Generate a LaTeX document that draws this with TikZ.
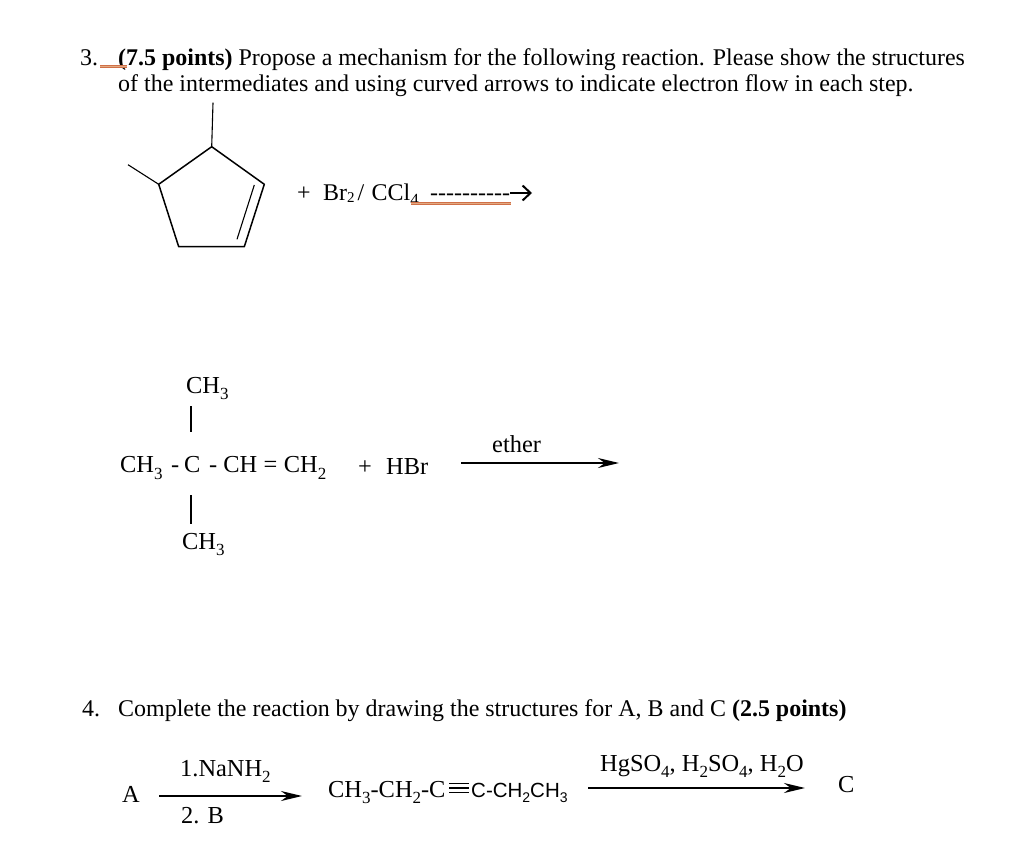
\documentclass[tikz,border=0pt]{standalone}
\usepackage{fontspec}
\setmainfont{Liberation Serif}
\newfontfamily\plainfont{Liberation Serif}
\setsansfont{Liberation Sans}
\usetikzlibrary{arrows.meta,positioning}
\newcommand{\sbs}[1]{\raisebox{-0.28em}{\fontsize{17}{17}\selectfont #1}}
\definecolor{wavyred}{RGB}{208,112,72}
\definecolor{wavytan}{RGB}{226,170,130}
\begin{document}
\begin{tikzpicture}[
    x=1pt, y=-1pt,
    txt/.style={anchor=base west, inner sep=0pt, font=\fontsize{23.95}{28}\selectfont},
    chem/.style={anchor=base west, inner sep=0pt, font=\fontsize{24.4}{28}\selectfont},
    bond/.style={line width=1.5pt, black},
    thinbond/.style={line width=1.1pt, black},
    rxn/.style={line width=2pt, -{Stealth[length=21pt, width=10pt]}},
    squiggle/.style={line width=0.9pt, wavyred, double=wavytan, double distance=0.7pt}
]
    \useasboundingbox (0,0) rectangle (1024,843);

    % Question 3
    \node[txt] (num3) at (80,65) {3.};
    \node[txt] (head3) at (118,65) {\textbf{(7.5 points)} Propose a mechanism for the following reaction. Please show the structures};
    \node[txt] (line3) at (118,91) {of the intermediates and using curved arrows to indicate electron flow in each step.};
    \coordinate (ua) at (100,66.5);
    \coordinate (ub) at (127,66.5);
    \draw[squiggle] (ua) -- (ub);

    % Ring
    \coordinate (r1) at (211.7,146.7);
    \coordinate (r2) at (264.3,184.3);
    \coordinate (r3) at (244.3,246.7);
    \coordinate (r4) at (178.7,246.7);
    \coordinate (r5) at (158.7,184.3);
    \coordinate (me1) at (213,102.7);
    \coordinate (me2) at (128,164.7);
    \coordinate (in1) at (254.3,185);
    \coordinate (in2) at (237,239.3);
    \draw[bond, line join=round] (r1) -- (r2) -- (r3) -- (r4) -- (r5) -- cycle;
    \draw[thinbond] (r1) -- (me1);
    \draw[thinbond] (r5) -- (me2);
    \draw[thinbond] (in1) -- (in2);

    % Bromine addition
    \node[txt] (plus1) at (297,200) {+};
    \node[txt] (br2) at (323,200) {Br\raisebox{-0.1em}{\fontsize{15}{15}\selectfont 2}\hspace{3pt}/};
    \node[txt] (ccl) at (371.5,200) {CCl\raisebox{-0.22em}{\fontsize{17}{17}\selectfont 4}};
    \node[txt, font=\plainfont\fontsize{24}{28}\selectfont] (dash1) at (430,200) {----------};
    \coordinate (dash1end) at (532,193);
    \draw[line width=2pt, -{Straight Barb[length=8pt, width=15pt, line width=2pt]}] (dash1.east |- dash1end) -- (dash1end);
    \coordinate (ub1) at (411,203.5);
    \coordinate (ub2) at (511,203.5);
    \draw[squiggle] (ub1) -- (ub2);

    % Alkene
    \node[chem] (metop) at (186,393) {CH\sbs{3}};
    \node[chem] (meleft) at (120,472.5) {CH\sbs{3}};
    \node[chem] (dashl) at (171,472.5) {-};
    \node[chem] (quat) at (184,472.5) {C};
    \node[chem] (chain) at (209,472.5) {-\hspace{6pt}CH\hspace{6.5pt}=\hspace{6.5pt}CH\sbs{2}};
    \node[chem] (mebot) at (182,549) {CH\sbs{3}};
    \coordinate (b1a) at (191,406);
    \coordinate (b1b) at (191,432);
    \coordinate (b2a) at (191,495);
    \coordinate (b2b) at (191,524);
    \draw[thinbond] (b1a) -- (b1b);
    \draw[thinbond] (b2a) -- (b2b);
    \node[chem] (plus2) at (358,474) {+};
    \node[chem] (hbr) at (386,474) {HBr};
    \node[chem] (ether) at (492,452) {ether};
    \coordinate (ar1a) at (461,463);
    \coordinate (ar1b) at (619,463);
    \draw[rxn] (ar1a) -- (ar1b);

    % Question 4
    \node[txt] (num4) at (82,716) {4.};
    \node[txt] (head4) at (118,716) {Complete the reaction by drawing the structures for A, B and C \textbf{(2.5 points)}};

    \node[chem] (A) at (122,802) {A};
    \node[chem] (nanh) at (180,776) {1.NaNH\sbs{2}};
    \node[chem] (bstep) at (181,823) {2. B};
    \node[chem] (alkyne) at (328,797) {CH\sbs{3}-CH\sbs{2}-C};
    \coordinate (tr) at (449,788);
    \coordinate (tra) at (449,783.5);
    \coordinate (trb) at (449,792.5);
    \draw[line width=1.3pt] (tra) -- ++(20,0) (tr) -- ++(20,0) (trb) -- ++(20,0);
    \node[chem, font=\sffamily\fontsize{20.5}{24}\selectfont] (tail) at (471,797) {C-CH\raisebox{-0.25em}{\fontsize{14}{14}\selectfont 2}CH\raisebox{-0.25em}{\fontsize{14}{14}\selectfont 3}};
    \node[chem] (hg) at (600,771) {HgSO\sbs{4}, H\sbs{2}SO\sbs{4}, H\sbs{2}O};
    \node[chem] (C) at (838,792) {C};
    \coordinate (ar2a) at (159,796);
    \coordinate (ar2b) at (302,796);
    \coordinate (ar3a) at (588,788);
    \coordinate (ar3b) at (805,788);
    \draw[rxn] (ar2a) -- (ar2b);
    \draw[rxn] (ar3a) -- (ar3b);

\end{tikzpicture}
\end{document}
